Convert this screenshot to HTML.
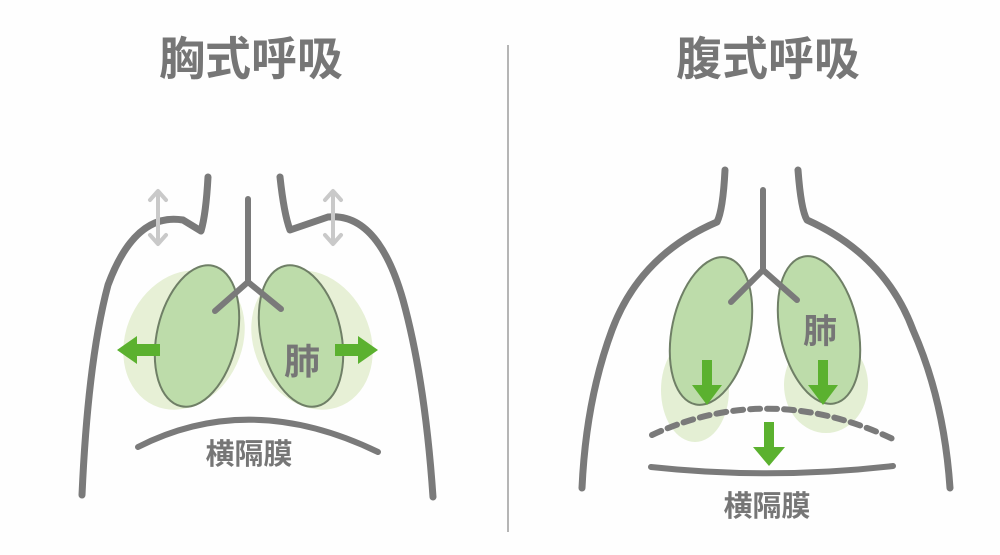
<!DOCTYPE html>
<html><head><meta charset="utf-8"><style>
html,body{margin:0;padding:0;background:#fefefe;}
svg{display:block;}
text{font-family:"Liberation Sans","Noto Sans CJK SC",sans-serif;font-weight:bold;fill:#767676;}
</style></head><body>
<svg width="1000" height="555" viewBox="0 0 1000 555" xmlns="http://www.w3.org/2000/svg">
<rect width="1000" height="555" fill="#fefefe"/>
<text x="251" y="75" font-size="46" text-anchor="middle">胸式呼吸</text>
<text x="768" y="75" font-size="46" text-anchor="middle">腹式呼吸</text>
<line x1="508" y1="45" x2="508" y2="532" stroke="#b5b5b5" stroke-width="2"/>

<!-- LEFT PANEL -->
<g fill="none" stroke="#7a7a7a" stroke-width="7" stroke-linecap="round" stroke-linejoin="round">
<path d="M208,177 Q206,214 201,231 L183,220 Q135,212 108,285 Q88,360 82,495"/>
<path d="M280,177 Q284,214 290,230 L328,217 Q378,212 403,300 Q425,380 433,497"/>
</g>
<!-- halo -->
<g fill="#e7f0d6">
<ellipse cx="184" cy="340" rx="58" ry="72" transform="rotate(25 184 340)"/>
<ellipse cx="312" cy="340" rx="58" ry="72" transform="rotate(-25 312 340)"/>
</g>
<!-- gray double arrows -->
<g stroke="#c9c9c9" stroke-width="4" fill="none" stroke-linecap="round" stroke-linejoin="round">
<line x1="158" y1="192" x2="158" y2="243"/><path d="M150,200 L158,191 L166,200"/><path d="M150,235 L158,244 L166,235"/>
<line x1="333" y1="192" x2="333" y2="243"/><path d="M325,200 L333,191 L341,200"/><path d="M325,235 L333,244 L341,235"/>
</g>
<ellipse cx="197" cy="336" rx="40" ry="72" transform="rotate(13 197 336)" fill="#bddcaa" stroke="#6f7f66" stroke-width="2"/>
<ellipse cx="301" cy="336" rx="40" ry="72" transform="rotate(-13 301 336)" fill="#bddcaa" stroke="#6f7f66" stroke-width="2"/>
<g fill="none" stroke="#7a7a7a" stroke-width="6" stroke-linecap="round" stroke-linejoin="round">
<line x1="248" y1="199" x2="248" y2="282"/>
<path d="M215,311 L248,282 L281,309"/>
<path d="M138,447 Q250,390 378,452"/>
</g>
<!-- green side arrows -->
<g fill="#5bb12f">
<path d="M160,344 L137,344 L137,336 L117,350 L137,364 L137,356 L160,356Z"/>
<path d="M335,344 L358,344 L358,336 L378,350 L358,364 L358,356 L335,356Z"/>
</g>
<text x="302" y="374" font-size="36" text-anchor="middle">肺</text>
<text x="249" y="464" font-size="29" text-anchor="middle">横隔膜</text>

<!-- RIGHT PANEL -->
<g fill="none" stroke="#7a7a7a" stroke-width="7" stroke-linecap="round" stroke-linejoin="round">
<path d="M725,170 Q723,210 717,222 Q640,255 612,330 Q586,400 582,488"/>
<path d="M798,170 Q801,210 807,220 Q885,255 913,330 Q944,400 950,488"/>
</g>
<ellipse cx="695" cy="390" rx="34" ry="52" fill="#e4efd4"/>
<ellipse cx="826" cy="385" rx="42" ry="48" fill="#e4efd4"/>
<ellipse cx="711" cy="331" rx="39" ry="75" transform="rotate(12 711 331)" fill="#bddcaa" stroke="#6f7f66" stroke-width="2"/>
<ellipse cx="819" cy="330" rx="39" ry="75" transform="rotate(-12 819 330)" fill="#bddcaa" stroke="#6f7f66" stroke-width="2"/>
<g fill="none" stroke="#7a7a7a" stroke-width="6" stroke-linecap="round" stroke-linejoin="round">
<line x1="763" y1="190" x2="763" y2="270"/>
<path d="M731,302 L763,270 L797,300"/>
<path d="M652,435 Q770,380 895,440" stroke-dasharray="10 7"/>
<path d="M651,467 Q770,480 893,466"/>
</g>
<g fill="#5bb12f">
<path d="M702,360 L712,360 L712,385 L722,385 L707,405 L692,385 L702,385Z"/>
<path d="M818,360 L828,360 L828,385 L838,385 L823,405 L808,385 L818,385Z"/>
<path d="M764,422 L774,422 L774,447 L785,447 L769,466 L753,447 L764,447Z"/>
</g>
<text x="820" y="343" font-size="34" text-anchor="middle">肺</text>
<text x="767" y="516" font-size="29" text-anchor="middle">横隔膜</text>
</svg>
</body></html>
